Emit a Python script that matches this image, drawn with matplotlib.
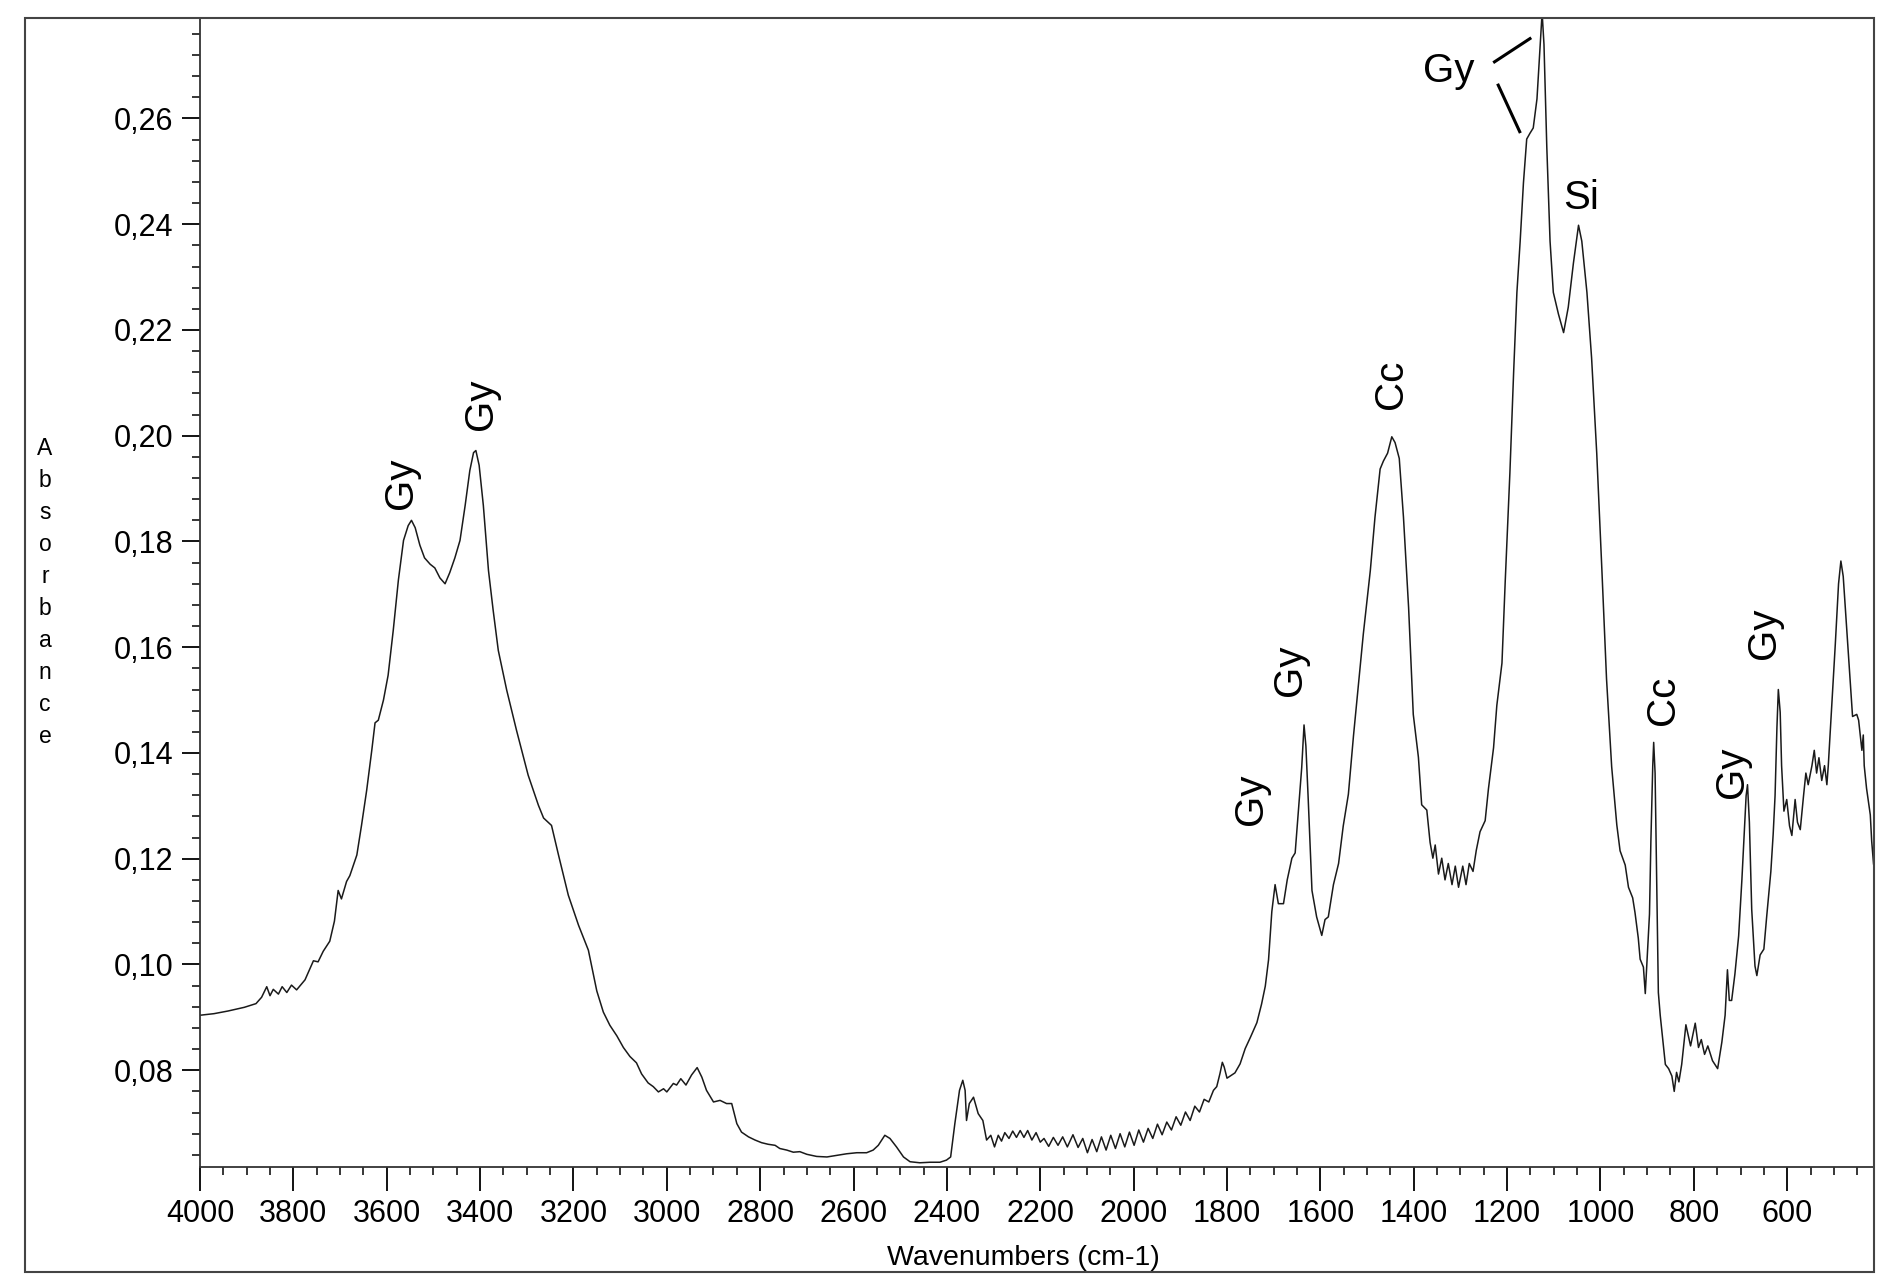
import numpy as np
import matplotlib.pyplot as plt
from matplotlib.ticker import MultipleLocator, FuncFormatter
from matplotlib.patches import Rectangle

plt.rcParams['font.family'] = ['Liberation Sans', 'DejaVu Sans']

# FTIR spectrum (wavenumber cm-1, absorbance)
wavenumber = [
    4000, 3970, 3940, 3905, 3880, 3868, 3857, 3850, 3843, 3832, 3824, 3814, 3804, 3793,
    3775, 3757, 3747, 3736, 3722, 3712, 3704, 3697, 3686, 3679, 3664, 3654, 3643, 3632,
    3625, 3618, 3607, 3597, 3586, 3575, 3564, 3554, 3547, 3539, 3529, 3519, 3507, 3497,
    3486, 3475, 3465, 3454, 3443, 3432, 3422, 3414, 3409, 3402, 3393, 3382, 3372, 3361,
    3343, 3322, 3297, 3275, 3264, 3247, 3232, 3211, 3189, 3168, 3150, 3136, 3122, 3107,
    3093, 3079, 3065, 3054, 3040, 3029, 3018, 3007, 3000, 2986, 2979, 2970, 2959, 2947,
    2935, 2925, 2915, 2900, 2886, 2872, 2861, 2850, 2840, 2825, 2811, 2797, 2783, 2768,
    2758, 2743, 2729, 2715, 2700, 2679, 2657, 2636, 2615, 2593, 2572, 2558, 2547, 2533,
    2522, 2508, 2493, 2479, 2458, 2436, 2415, 2401, 2392, 2383, 2373, 2366, 2361, 2358,
    2352, 2343, 2333, 2323, 2315, 2306, 2298, 2290, 2283, 2276, 2267, 2259, 2251, 2243,
    2235, 2227, 2218, 2209, 2200, 2192, 2182, 2172, 2162, 2152, 2142, 2130, 2119, 2109,
    2099, 2089, 2079, 2069, 2059, 2049, 2039, 2029, 2019, 2009, 1999, 1989, 1979, 1969,
    1959, 1949, 1939, 1929, 1919, 1909, 1899, 1889, 1879, 1869, 1859, 1849, 1839, 1829,
    1822, 1815, 1810, 1806, 1800, 1795, 1783, 1772, 1761, 1750, 1736, 1726, 1718, 1711,
    1704, 1697, 1690, 1679, 1671, 1661, 1654, 1647, 1640, 1635, 1631, 1626, 1618, 1608,
    1597, 1590, 1583, 1572, 1561, 1551, 1540, 1529, 1518, 1508, 1493, 1483, 1472, 1465,
    1456, 1447, 1440, 1431, 1422, 1411, 1401, 1390, 1383, 1372, 1365, 1359, 1354, 1347,
    1340, 1333, 1326, 1318, 1311, 1304, 1295, 1288, 1281, 1273, 1266, 1258, 1247, 1240,
    1229, 1222, 1211, 1204, 1194, 1186, 1179, 1172, 1165, 1158, 1151, 1144, 1136, 1129,
    1125, 1121, 1115, 1108, 1101, 1090, 1079, 1069, 1058, 1047, 1040, 1029, 1019, 1008,
    997, 987, 976, 965, 958, 947, 940, 931, 926, 919, 915, 908, 904, 899,
    895, 892, 888, 886, 883, 879, 876, 872, 866, 861, 854, 847, 842, 837,
    832, 826, 817, 807, 797, 790, 784, 777, 770, 760, 749, 740, 733, 728,
    724, 719, 712, 704, 697, 692, 688, 685, 681, 676, 669, 665, 658, 650,
    644, 635, 630, 626, 622, 619, 615, 612, 607, 601, 595, 590, 583, 578,
    572, 565, 560, 555, 547, 542, 537, 532, 526, 520, 515, 512, 505, 497,
    490, 485, 480, 472, 465, 460, 451, 447, 440, 437, 435, 430, 422, 419,
    415, 413,
]
absorbance = [
    0.0904, 0.0907, 0.0912, 0.0919, 0.0926, 0.0938, 0.0958, 0.0941, 0.0953, 0.0944, 0.0958, 0.0947, 0.0961, 0.0952,
    0.0971, 0.1007, 0.1005, 0.1025, 0.1044, 0.1082, 0.1140, 0.1124, 0.1157, 0.1168, 0.1207, 0.1263, 0.1329, 0.1405,
    0.1457, 0.1462, 0.1500, 0.1547, 0.1632, 0.1727, 0.1802, 0.1830, 0.1840, 0.1826, 0.1793, 0.1769, 0.1757, 0.1750,
    0.1731, 0.1720, 0.1741, 0.1769, 0.1802, 0.1868, 0.1934, 0.1968, 0.1972, 0.1944, 0.1868, 0.1745, 0.1670, 0.1594,
    0.1519, 0.1443, 0.1358, 0.1301, 0.1277, 0.1263, 0.1207, 0.1131, 0.1074, 0.1027, 0.0950, 0.0910, 0.0885, 0.0865,
    0.0843, 0.0826, 0.0814, 0.0793, 0.0776, 0.0769, 0.0759, 0.0765, 0.0759, 0.0775, 0.0772, 0.0784, 0.0772, 0.0791,
    0.0805, 0.0787, 0.0762, 0.0740, 0.0743, 0.0737, 0.0737, 0.0699, 0.0683, 0.0674, 0.0668, 0.0663, 0.0660, 0.0658,
    0.0652, 0.0649, 0.0645, 0.0646, 0.0641, 0.0637, 0.0636, 0.0639, 0.0642, 0.0644, 0.0644, 0.0649, 0.0658, 0.0677,
    0.0671, 0.0655, 0.0636, 0.0627, 0.0625, 0.0626, 0.0626, 0.0630, 0.0636, 0.0699, 0.0762, 0.0781, 0.0762, 0.0705,
    0.0737, 0.0749, 0.0718, 0.0705, 0.0668, 0.0677, 0.0655, 0.0677, 0.0666, 0.0682, 0.0671, 0.0685, 0.0673, 0.0686,
    0.0673, 0.0686, 0.0668, 0.0682, 0.0664, 0.0671, 0.0656, 0.0673, 0.0658, 0.0674, 0.0655, 0.0678, 0.0654, 0.0671,
    0.0644, 0.0669, 0.0646, 0.0674, 0.0649, 0.0677, 0.0652, 0.0680, 0.0655, 0.0683, 0.0658, 0.0687, 0.0664, 0.0690,
    0.0671, 0.0698, 0.0678, 0.0702, 0.0687, 0.0712, 0.0696, 0.0721, 0.0705, 0.0732, 0.0721, 0.0745, 0.0740, 0.0762,
    0.0769, 0.0794, 0.0815, 0.0806, 0.0785, 0.0788, 0.0795, 0.0812, 0.0841, 0.0862, 0.0890, 0.0925, 0.0959, 0.1009,
    0.1100, 0.1151, 0.1115, 0.1115, 0.1160, 0.1201, 0.1211, 0.1292, 0.1372, 0.1453, 0.1413, 0.1312, 0.1140, 0.1090,
    0.1055, 0.1085, 0.1090, 0.1151, 0.1191, 0.1262, 0.1322, 0.1433, 0.1534, 0.1625, 0.1745, 0.1846, 0.1937, 0.1952,
    0.1967, 0.1998, 0.1987, 0.1957, 0.1846, 0.1675, 0.1473, 0.1392, 0.1302, 0.1292, 0.1231, 0.1201, 0.1226, 0.1171,
    0.1201, 0.1160, 0.1191, 0.1151, 0.1186, 0.1146, 0.1186, 0.1151, 0.1191, 0.1176, 0.1216, 0.1251, 0.1272, 0.1332,
    0.1410, 0.1490, 0.1570, 0.1725, 0.1930, 0.2120, 0.2271, 0.2368, 0.2478, 0.2561, 0.2572, 0.2582, 0.2637, 0.2740,
    0.2800, 0.2740, 0.2547, 0.2368, 0.2271, 0.2230, 0.2195, 0.2243, 0.2326, 0.2398, 0.2368, 0.2271, 0.2147, 0.1967,
    0.1747, 0.1540, 0.1374, 0.1264, 0.1215, 0.1188, 0.1146, 0.1126, 0.1098, 0.1050, 0.1010, 0.0995, 0.0945, 0.1030,
    0.1095, 0.1233, 0.1376, 0.1420, 0.1362, 0.1126, 0.0947, 0.0904, 0.0853, 0.0811, 0.0803, 0.0789, 0.0760, 0.0796,
    0.0778, 0.0811, 0.0886, 0.0846, 0.0889, 0.0843, 0.0858, 0.0830, 0.0846, 0.0818, 0.0803, 0.0853, 0.0904, 0.0990,
    0.0932, 0.0932, 0.0982, 0.1054, 0.1161, 0.1247, 0.1319, 0.1340, 0.1269, 0.1104, 0.0997, 0.0979, 0.1018, 0.1029,
    0.1090, 0.1176, 0.1247, 0.1319, 0.1448, 0.1520, 0.1477, 0.1376, 0.1290, 0.1312, 0.1262, 0.1244, 0.1312, 0.1269,
    0.1255, 0.1319, 0.1362, 0.1340, 0.1376, 0.1405, 0.1362, 0.1391, 0.1348, 0.1376, 0.1340, 0.1376, 0.1484, 0.1605,
    0.1720, 0.1763, 0.1734, 0.1627, 0.1534, 0.1469, 0.1473, 0.1462, 0.1405, 0.1434, 0.1376, 0.1333, 0.1283, 0.1233,
    0.1190, 0.1180,
]

# band assignments: (text, wavenumber, absorbance, rotation)
band_labels = ['Gy', 'Gy', 'Gy', 'Gy', 'Cc', 'Gy', 'Si', 'Cc', 'Gy', 'Gy']
band_x = [3569, 3399, 1748, 1665, 1449, 1326, 1041, 866, 718, 649]
band_y = [0.191, 0.2059, 0.1313, 0.1557, 0.2098, 0.2690, 0.2450, 0.1500, 0.1363, 0.1626]
band_rot = [90, 90, 90, 90, 90, 0, 0, 90, 90, 90]

fig = plt.figure(figsize=(18.92, 12.75), dpi=100)
ax = fig.add_axes([0.1057, 0.0847, 0.8848, 0.9012])

ax.plot(wavenumber, absorbance, color='#1a1a1a', lw=1.1)

ax.set_xlim(4000, 414)
ax.set_ylim(0.0617, 0.279)

ax.xaxis.set_major_locator(MultipleLocator(200))
ax.xaxis.set_minor_locator(MultipleLocator(50))
ax.yaxis.set_major_locator(MultipleLocator(0.02))
ax.yaxis.set_minor_locator(MultipleLocator(0.004))
ax.yaxis.set_major_formatter(FuncFormatter(lambda v, p: f'{v:.2f}'.replace('.', ',')))
ax.xaxis.set_major_formatter(FuncFormatter(lambda v, p: f'{v:.0f}'))

ax.tick_params(axis='both', which='major', direction='out', length=13, width=1.3,
               labelsize=22, pad=6)
ax.tick_params(axis='both', which='minor', direction='out', length=6, width=1.1)
ax.tick_params(axis='x', which='major', length=17, pad=6)

for s in ax.spines.values():
    s.set_linewidth(1.3)
    s.set_color('#333333')

ax.set_xlabel('Wavenumbers (cm-1)', fontsize=20.5, va='center')
ax.xaxis.set_label_coords(0.492, -0.0795)
ax.set_ylabel('\n'.join('Absorbance'), fontsize=16.5, rotation=0, linespacing=1.5,
              ha='center', va='center')
ax.yaxis.set_label_coords(-0.0926, 0.5)

for t, x, y, r in zip(band_labels, band_x, band_y, band_rot):
    ax.text(x, y, t, fontsize=29, rotation=r, ha='center', va='center')

# pointer lines for the doublet label
ax.plot([1227, 1151], [0.2707, 0.2751], color='black', lw=2.2, clip_on=False)
ax.plot([1219, 1173], [0.2663, 0.2575], color='black', lw=2.2, clip_on=False)

# outer frame
fig.patches.append(Rectangle((0.0132, 0.0024), 0.9773, 0.9835, transform=fig.transFigure,
                             fill=False, edgecolor='#444444', lw=1.5))

fig.savefig('out.png', dpi=100)
